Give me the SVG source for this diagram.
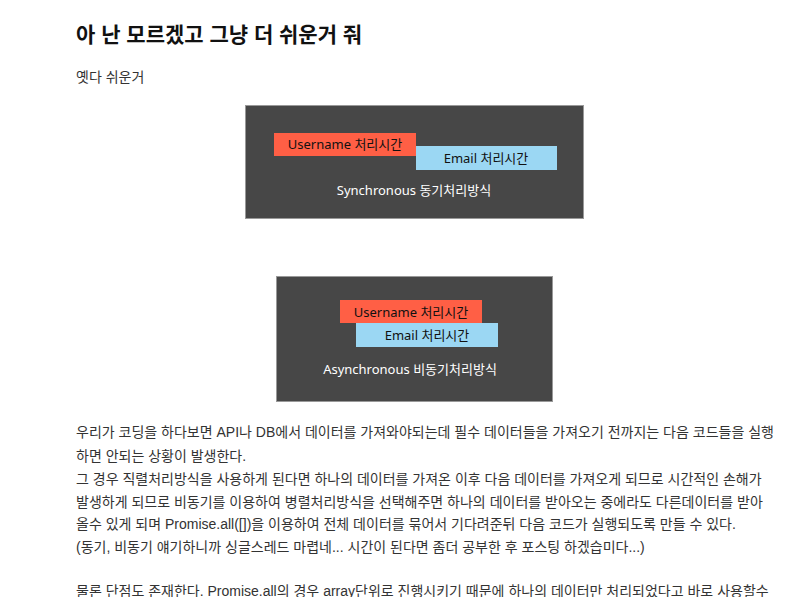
<svg xmlns="http://www.w3.org/2000/svg" width="800" height="597" viewBox="0 0 800 597">
<style>
text{font-family:"Liberation Sans","Noto Sans CJK KR",sans-serif;}
.b{font-size:14px;fill:#333}
.d{font-family:"Noto Sans","Noto Sans CJK KR",sans-serif;font-size:13px;text-anchor:middle}
.box{fill:#474747;stroke:#999;stroke-width:1}
.u{fill:#ff5f45}
.e{fill:#9bd7f3}
</style>
<rect width="800" height="597" fill="#fff"/>
<text x="76" y="42" font-size="21" font-weight="bold" fill="#111" font-family="Noto Sans CJK KR,sans-serif">아 난 모르겠고 그냥 더 쉬운거 줘</text>
<text class="b" x="76" y="82">옛다 쉬운거</text>
<g id="sync">
<rect class="box" x="245.5" y="105.5" width="338" height="113"/>
<rect class="u" x="274" y="133" width="142" height="23"/>
<rect class="e" x="416" y="146" width="141" height="24"/>
<text class="d" x="345" y="149" fill="#111">Username 처리시간</text>
<text class="d" x="486" y="163" fill="#111">Email 처리시간</text>
<text class="d" x="414" y="195" fill="#fff">Synchronous 동기처리방식</text>
</g>
<g id="async">
<rect class="box" x="276.5" y="276.5" width="276" height="125"/>
<rect class="u" x="340" y="300" width="142" height="23"/>
<rect class="e" x="356" y="323" width="142" height="24"/>
<text class="d" x="411" y="317" fill="#111">Username 처리시간</text>
<text class="d" x="427" y="340" fill="#111">Email 처리시간</text>
<text class="d" x="410" y="374" fill="#fff">Asynchronous 비동기처리방식</text>
</g>
<g class="b">
<text class="b" x="76" y="437">우리가 코딩을 하다보면 API나 DB에서 데이터를 가져와야되는데 필수 데이터들을 가져오기 전까지는 다음 코드들을 실행</text>
<text class="b" x="76" y="461">하면 안되는 상황이 발생한다.</text>
<text class="b" x="76" y="484">그 경우 직렬처리방식을 사용하게 된다면 하나의 데이터를 가져온 이후 다음 데이터를 가져오게 되므로 시간적인 손해가</text>
<text class="b" x="76" y="507">발생하게 되므로 비동기를 이용하여 병렬처리방식을 선택해주면 하나의 데이터를 받아오는 중에라도 다른데이터를 받아</text>
<text class="b" x="76" y="529">올수 있게 되며 Promise.all([])을 이용하여 전체 데이터를 묶어서 기다려준뒤 다음 코드가 실행되도록 만들 수 있다.</text>
<text class="b" x="76" y="552">(동기, 비동기 얘기하니까 싱글스레드 마렵네... 시간이 된다면 좀더 공부한 후 포스팅 하겠습미다...)</text>
<text class="b" x="76" y="596">물론 단점도 존재한다. Promise.all의 경우 array단위로 진행시키기 때문에 하나의 데이터만 처리되었다고 바로 사용할수</text>
</g>
</svg>
